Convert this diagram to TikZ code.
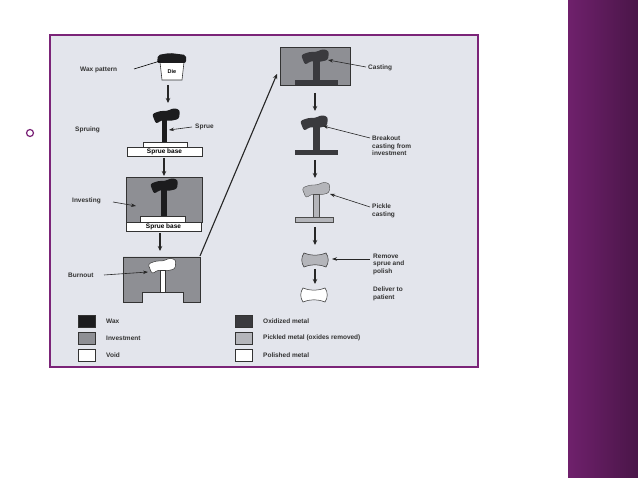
\documentclass[tikz,border=0pt]{standalone}
\usepackage{fontspec}
\setmainfont{Liberation Sans}
\usetikzlibrary{arrows.meta}
\definecolor{paper}{HTML}{E3E5EC}
\definecolor{purp}{HTML}{7B2478}
\definecolor{wax}{HTML}{1C1C1E}
\definecolor{inv}{HTML}{8E8F94}
\definecolor{oxi}{HTML}{3A3A3E}
\definecolor{pick}{HTML}{B4B5BA}
\tikzset{
  lbl/.style={font=\fontsize{6.5}{7.5}\selectfont\bfseries, text=black!80, align=left, anchor=west, inner sep=0pt},
  flow/.style={-{Stealth[length=5pt,width=4.5pt]}, line width=1.1pt, black!85},
  point/.style={-{Stealth[length=5pt,width=3.5pt]}, line width=0.6pt, black!85},
  outl/.style={draw=black!80, line width=0.6pt},
  head/.pic={\path[pic actions, rounded corners=2.5] (0,6) -- (8,3) -- (15,3) -- (22,0) -- (28,2) -- (27,11) -- (18,13) -- (10,12) -- (4,16) -- (2,11) -- cycle;},
  piece/.pic={\path[pic actions] (2,0) .. controls (10,3) and (16,3) .. (24,0) .. controls (27,4) and (27,10) .. (24,14) .. controls (16,11) and (10,11) .. (2,14) .. controls (-1,10) and (-1,4) .. (2,0) -- cycle;}
}
\begin{document}
\begin{tikzpicture}[x=1pt,y=-1pt]
\useasboundingbox (0,0) rectangle (638,478);
\fill[white] (0,0) rectangle (638,478);
\shade[left color=purp!90!black, right color=purp!60!black] (568,0) rectangle (638,478);
\draw[purp, line width=1.2pt] (30,133) circle (3.5);
\fill[paper] (50,35) rectangle (478,367);
\draw[purp, line width=2.5pt] (50,35) rectangle (478,367);
% die
\draw[outl, fill=white] (160,62) -- (162,80) -- (182,80) -- (184,62) -- cycle;
\node[font=\fontsize{5.5}{6}\selectfont\bfseries] at (172,72) {Die};
\fill[wax, rounded corners=2] (157,63) -- (158,55) -- (170,53) -- (186,55) -- (186,63) -- cycle;
\node[lbl] at (80,70) {Wax pattern};
\draw[line width=0.6pt] (134,69) -- (160,61);
\draw[flow] (168,85) -- (168,103);
% spruing
\pic[fill=wax] at (152,108) {head};
\fill[wax] (162,118) rectangle (167,143);
\draw[outl, fill=white] (143,142) rectangle (187,147);
\draw[outl, fill=white] (127,147) rectangle (202,156);
\node[font=\fontsize{6.5}{7}\selectfont\bfseries] at (164.5,151.5) {Sprue base};
\node[lbl] at (75,130) {Spruing};
\node[lbl] at (195,127) {Sprue};
\draw[point] (192,127) -- (169,130);
\draw[flow] (164,158) -- (164,176);
% investing
\draw[outl, fill=inv] (126,177) rectangle (202,222);
\draw[outl, fill=white] (140,216) rectangle (185,222);
\pic[fill=wax] at (150,178) {head};
\fill[wax] (161,189) rectangle (167,216);
\draw[outl, fill=white] (126,222) rectangle (201,231);
\node[font=\fontsize{6.5}{7}\selectfont\bfseries] at (163.5,226.5) {Sprue base};
\node[lbl] at (72,201) {Investing};
\draw[point] (113,202) -- (136,206);
\draw[flow] (160,233) -- (160,251);
% burnout
\draw[outl, fill=inv] (123,257) -- (200,257) -- (200,302) -- (183,302) -- (183,292) -- (142,292) -- (142,302) -- (123,302) -- cycle;
\pic[fill=white, draw=black!80, line width=0.5pt] at (148,258) {head};
\draw[outl, fill=white] (160,270) rectangle (165,292);
\node[lbl] at (68,275) {Burnout};
\draw[point] (104,275) -- (148,272);
\draw[flow] (200,256) -- (277,74);
% casting
\draw[outl, fill=inv] (280,47) rectangle (350,85);
\pic[fill=oxi] at (301,49) {head};
\fill[oxi] (313,60) rectangle (320,81);
\fill[oxi] (295,80) rectangle (338,85);
\node[lbl] at (368,68) {Casting};
\draw[point] (366,67) -- (328,60);
\draw[flow] (315,93) -- (315,111);
% breakout
\pic[fill=oxi] at (300,115) {head};
\fill[oxi] (313,126) rectangle (320,151);
\fill[oxi] (295,150) rectangle (338,155);
\node[lbl] at (372,146) {Breakout\\casting from\\investment};
\draw[point] (370,138) -- (323,126);
\draw[flow] (315,160) -- (315,178);
% pickle
\pic[fill=pick, draw=black!70, line width=0.4pt] at (302,182) {head};
\draw[fill=pick, draw=black!70, line width=0.4pt] (313,194) rectangle (319,217);
\draw[fill=pick, draw=black!70, line width=0.4pt] (295,217) rectangle (333,222);
\node[lbl] at (372,211) {Pickle\\casting};
\draw[point] (370,207) -- (330,194);
\draw[flow] (315,227) -- (315,245);
% remove
\pic[fill=pick, draw=black!80, line width=0.5pt] at (302,253) {piece};
\node[lbl] at (373,264) {Remove\\sprue and\\polish};
\draw[point] (370,259) -- (332,259);
\draw[flow] (315,269) -- (315,284);
\pic[fill=white, draw=black!80, line width=0.5pt] at (301,288) {piece};
\node[lbl] at (373,294) {Deliver to\\patient};
% legend
\draw[outl, fill=wax] (78,315) rectangle (95,327);
\draw[outl, fill=inv] (78,332) rectangle (95,344);
\draw[outl, fill=white] (78,349) rectangle (95,361);
\node[lbl] at (106,321) {Wax};
\node[lbl] at (106,338) {Investment};
\node[lbl] at (106,355) {Void};
\draw[outl, fill=oxi] (235,315) rectangle (252,327);
\draw[outl, fill=pick] (235,332) rectangle (252,344);
\draw[outl, fill=white] (235,349) rectangle (252,361);
\node[lbl] at (263,321) {Oxidized metal};
\node[lbl] at (263,338) {Pickled metal (oxides removed)};
\node[lbl] at (263,355) {Polished metal};
\end{tikzpicture}
\end{document}
